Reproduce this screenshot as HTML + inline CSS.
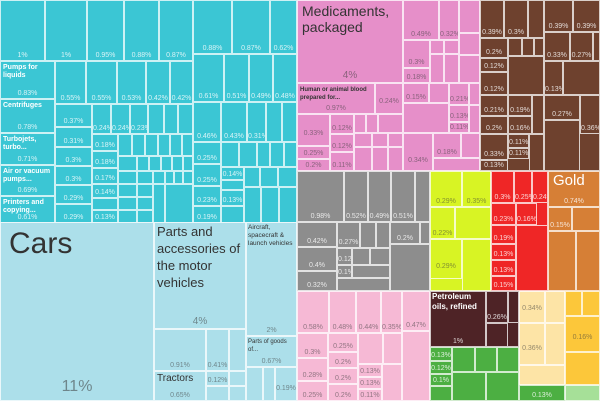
<!DOCTYPE html>
<html><head><meta charset="utf-8"><style>
body{margin:0;width:600px;height:401px;overflow:hidden;background:#fff;font-family:"Liberation Sans",sans-serif}
#m{position:relative;width:600px;height:401px}
#m div{position:absolute;box-sizing:border-box;border:1px solid rgba(255,255,255,.75);overflow:hidden}
.t{background:#3bc6d4}.c{background:#acdfea}.p{background:#e68fc9}.b{background:#6e412e}.g{background:#8d8d8d}
.y{background:#d8f424}.r{background:#ef2626}.o{background:#d67f36}.lp{background:#f6b9d5}.d{background:#4e2326}
.gr{background:#4caf42}.ly{background:#fde4a6}.gy{background:#fcc73a}.lg{background:#a6e098}
.v{color:rgba(255,255,255,.8);font-size:7px;text-align:center;position:absolute;left:0;right:0;bottom:1px}
.vd{color:rgba(60,60,60,.55)}
.n{color:#fff;font-size:7px;line-height:8px;padding:2px;font-weight:bold}
.k{color:#333}
</style></head><body><div id="m">
<!-- teal machinery -->
<div class="t" style="left:0;top:0;width:297px;height:223px"></div>
<div class="t" style="left:0;top:0;width:45px;height:61px"><span class="v">1%</span></div>
<div class="t" style="left:45px;top:0;width:42px;height:61px"><span class="v">1%</span></div>
<div class="t" style="left:87px;top:0;width:37px;height:61px"><span class="v">0.95%</span></div>
<div class="t" style="left:124px;top:0;width:35px;height:61px"><span class="v">0.88%</span></div>
<div class="t" style="left:159px;top:0;width:34px;height:61px"><span class="v">0.87%</span></div>
<div class="t" style="left:193px;top:0;width:39px;height:54px"><span class="v">0.88%</span></div>
<div class="t" style="left:232px;top:0;width:38px;height:54px"><span class="v">0.87%</span></div>
<div class="t" style="left:270px;top:0;width:27px;height:54px"><span class="v">0.62%</span></div>
<div class="t" style="left:0;top:61px;width:55px;height:38px"><div class="n" style="border:0;position:static">Pumps for liquids</div><span class="v">0.83%</span></div>
<div class="t" style="left:0;top:99px;width:55px;height:34px"><div class="n" style="border:0;position:static">Centrifuges</div><span class="v">0.78%</span></div>
<div class="t" style="left:0;top:133px;width:55px;height:32px"><div class="n" style="border:0;position:static">Turbojets, turbo...</div><span class="v">0.71%</span></div>
<div class="t" style="left:0;top:165px;width:55px;height:31px"><div class="n" style="border:0;position:static">Air or vacuum pumps...</div><span class="v">0.69%</span></div>
<div class="t" style="left:0;top:196px;width:55px;height:27px"><div class="n" style="border:0;position:static">Printers and copying...</div><span class="v">0.61%</span></div>
<div class="t" style="left:55px;top:61px;width:31px;height:43px"><span class="v">0.55%</span></div>
<div class="t" style="left:86px;top:61px;width:31px;height:43px"><span class="v">0.55%</span></div>
<div class="t" style="left:117px;top:61px;width:29px;height:43px"><span class="v">0.53%</span></div>
<div class="t" style="left:146px;top:61px;width:24px;height:43px"><span class="v">0.42%</span></div>
<div class="t" style="left:170px;top:61px;width:23px;height:43px"><span class="v">0.42%</span></div>
<div class="t" style="left:193px;top:54px;width:31px;height:48px"><span class="v">0.61%</span></div>
<div class="t" style="left:224px;top:54px;width:25px;height:48px"><span class="v">0.51%</span></div>
<div class="t" style="left:249px;top:54px;width:24px;height:48px"><span class="v">0.49%</span></div>
<div class="t" style="left:273px;top:54px;width:24px;height:48px"><span class="v">0.48%</span></div>
<div class="t" style="left:55px;top:104px;width:37px;height:23px"><span class="v">0.37%</span></div>
<div class="t" style="left:55px;top:127px;width:37px;height:20px"><span class="v">0.31%</span></div>
<div class="t" style="left:55px;top:147px;width:37px;height:19px"><span class="v">0.3%</span></div>
<div class="t" style="left:55px;top:166px;width:37px;height:19px"><span class="v">0.3%</span></div>
<div class="t" style="left:55px;top:185px;width:37px;height:19px"><span class="v">0.29%</span></div>
<div class="t" style="left:55px;top:204px;width:37px;height:19px"><span class="v">0.29%</span></div>
<div class="t" style="left:92px;top:104px;width:19px;height:30px"><span class="v">0.24%</span></div>
<div class="t" style="left:111px;top:104px;width:19px;height:30px"><span class="v">0.24%</span></div>
<div class="t" style="left:130px;top:104px;width:18px;height:30px"><span class="v">0.23%</span></div>
<div class="t" style="left:148px;top:104px;width:16px;height:30px"></div>
<div class="t" style="left:164px;top:104px;width:14px;height:30px"></div>
<div class="t" style="left:178px;top:104px;width:15px;height:30px"></div>
<div class="t" style="left:92px;top:134px;width:26px;height:17px"><span class="v">0.18%</span></div>
<div class="t" style="left:92px;top:151px;width:26px;height:17px"><span class="v">0.18%</span></div>
<div class="t" style="left:92px;top:168px;width:26px;height:16px"><span class="v">0.17%</span></div>
<div class="t" style="left:92px;top:184px;width:26px;height:14px"><span class="v">0.14%</span></div>
<div class="t" style="left:92px;top:198px;width:26px;height:12px"></div>
<div class="t" style="left:92px;top:210px;width:26px;height:13px"><span class="v">0.13%</span></div>
<div class="t" style="left:118px;top:134px;width:14px;height:22px"></div>
<div class="t" style="left:132px;top:134px;width:13px;height:22px"></div>
<div class="t" style="left:145px;top:134px;width:13px;height:22px"></div>
<div class="t" style="left:158px;top:134px;width:12px;height:22px"></div>
<div class="t" style="left:170px;top:134px;width:12px;height:22px"></div>
<div class="t" style="left:182px;top:134px;width:11px;height:22px"></div>
<div class="t" style="left:118px;top:156px;width:19px;height:15px"></div>
<div class="t" style="left:137px;top:156px;width:12px;height:15px"></div>
<div class="t" style="left:149px;top:156px;width:12px;height:15px"></div>
<div class="t" style="left:161px;top:156px;width:11px;height:15px"></div>
<div class="t" style="left:172px;top:156px;width:11px;height:15px"></div>
<div class="t" style="left:183px;top:156px;width:10px;height:15px"></div>
<div class="t" style="left:118px;top:171px;width:19px;height:13px"></div>
<div class="t" style="left:118px;top:184px;width:19px;height:13px"></div>
<div class="t" style="left:118px;top:197px;width:19px;height:13px"></div>
<div class="t" style="left:118px;top:210px;width:19px;height:13px"></div>
<div class="t" style="left:137px;top:171px;width:16px;height:13px"></div>
<div class="t" style="left:137px;top:184px;width:16px;height:13px"></div>
<div class="t" style="left:137px;top:197px;width:16px;height:13px"></div>
<div class="t" style="left:137px;top:210px;width:16px;height:13px"></div>
<div class="t" style="left:153px;top:171px;width:12px;height:13px"></div>
<div class="t" style="left:165px;top:171px;width:9px;height:13px"></div>
<div class="t" style="left:174px;top:171px;width:9px;height:13px"></div>
<div class="t" style="left:183px;top:171px;width:10px;height:13px"></div>
<div class="t" style="left:153px;top:184px;width:12px;height:39px"></div>
<div class="t" style="left:165px;top:184px;width:28px;height:39px"></div>
<div class="t" style="left:193px;top:102px;width:28px;height:40px"><span class="v">0.46%</span></div>
<div class="t" style="left:221px;top:102px;width:26px;height:40px"><span class="v">0.43%</span></div>
<div class="t" style="left:247px;top:102px;width:19px;height:40px"><span class="v">0.31%</span></div>
<div class="t" style="left:266px;top:102px;width:16px;height:40px"></div>
<div class="t" style="left:282px;top:102px;width:15px;height:40px"></div>
<div class="t" style="left:193px;top:142px;width:28px;height:22px"><span class="v">0.25%</span></div>
<div class="t" style="left:193px;top:164px;width:28px;height:22px"><span class="v">0.25%</span></div>
<div class="t" style="left:193px;top:186px;width:28px;height:20px"><span class="v">0.23%</span></div>
<div class="t" style="left:193px;top:206px;width:28px;height:17px"><span class="v">0.19%</span></div>
<div class="t" style="left:221px;top:142px;width:18px;height:25px"></div>
<div class="t" style="left:239px;top:142px;width:18px;height:25px"></div>
<div class="t" style="left:257px;top:142px;width:13px;height:25px"></div>
<div class="t" style="left:270px;top:142px;width:14px;height:25px"></div>
<div class="t" style="left:284px;top:142px;width:13px;height:25px"></div>
<div class="t" style="left:221px;top:167px;width:23px;height:13px"><span class="v">0.14%</span></div>
<div class="t" style="left:221px;top:180px;width:23px;height:10px"></div>
<div class="t" style="left:221px;top:190px;width:23px;height:16px"><span class="v">0.13%</span></div>
<div class="t" style="left:221px;top:206px;width:23px;height:17px"></div>
<div class="t" style="left:244px;top:167px;width:16px;height:20px"></div>
<div class="t" style="left:260px;top:167px;width:18px;height:20px"></div>
<div class="t" style="left:278px;top:167px;width:19px;height:20px"></div>
<div class="t" style="left:244px;top:187px;width:17px;height:36px"></div>
<div class="t" style="left:261px;top:187px;width:18px;height:36px"></div>
<div class="t" style="left:279px;top:187px;width:18px;height:36px"></div>
<!-- cars / transport -->
<div class="c" style="left:0;top:222px;width:154px;height:179px"><div style="border:0;left:8px;top:4px;font-size:30px;color:#333">Cars</div><span class="v vd" style="font-size:16px;bottom:4px">11%</span></div>
<div class="c" style="left:154px;top:222px;width:92px;height:107px"><div style="border:0;left:2px;top:0;font-size:13px;line-height:17px;color:#333">Parts and accessories of the motor vehicles</div><span class="v vd" style="font-size:10px;bottom:1px">4%</span></div>
<div class="c" style="left:246px;top:222px;width:51px;height:114px"><div style="border:0;left:1px;top:1px;font-size:6.5px;line-height:8px;color:#333">Aircraft, spacecraft &amp; launch vehicles</div><span class="v vd">2%</span></div>
<div class="c" style="left:154px;top:329px;width:52px;height:42px"><span class="v vd">0.91%</span></div>
<div class="c" style="left:206px;top:329px;width:23px;height:42px"><span class="v vd">0.41%</span></div>
<div class="c" style="left:229px;top:329px;width:17px;height:42px"></div>
<div class="c" style="left:154px;top:371px;width:52px;height:30px"><div style="border:0;left:2px;top:1px;font-size:10px;color:#333">Tractors</div><span class="v vd">0.65%</span></div>
<div class="c" style="left:206px;top:371px;width:23px;height:15px"><span class="v vd">0.12%</span></div>
<div class="c" style="left:229px;top:371px;width:17px;height:15px"></div>
<div class="c" style="left:206px;top:386px;width:23px;height:15px"></div>
<div class="c" style="left:229px;top:386px;width:17px;height:15px"></div>
<div class="c" style="left:246px;top:336px;width:51px;height:31px"><div style="border:0;left:1px;top:1px;font-size:6px;line-height:8px;color:#333">Parts of goods of...</div><span class="v vd">0.67%</span></div>
<div class="c" style="left:246px;top:367px;width:17px;height:34px"></div>
<div class="c" style="left:263px;top:367px;width:12px;height:34px"></div>
<div class="c" style="left:275px;top:367px;width:22px;height:34px"><span class="v vd" style="bottom:8px">0.19%</span></div>
<!-- pink medicaments -->
<div class="p" style="left:297px;top:0;width:183px;height:171px"></div>
<div class="p" style="left:297px;top:0;width:106px;height:83px"><div style="border:0;left:4px;top:2px;font-size:14px;line-height:16px;color:#333">Medicaments, packaged</div><span class="v vd" style="font-size:10px">4%</span></div>
<div class="p" style="left:297px;top:83px;width:78px;height:31px"><div style="border:0;left:2px;top:2px;font-size:6px;line-height:8px;color:#333;font-weight:bold">Human or animal blood prepared for...</div><span class="v vd">0.97%</span></div>
<div class="p" style="left:375px;top:83px;width:28px;height:31px"><span class="v vd" style="bottom:8px">0.24%</span></div>
<div class="p" style="left:297px;top:114px;width:33px;height:32px"><span class="v vd" style="bottom:8px">0.33%</span></div>
<div class="p" style="left:297px;top:146px;width:33px;height:13px"><span class="v vd">0.25%</span></div>
<div class="p" style="left:297px;top:159px;width:33px;height:12px"><span class="v vd">0.2%</span></div>
<div class="p" style="left:330px;top:114px;width:24px;height:20px"><span class="v vd">0.12%</span></div>
<div class="p" style="left:330px;top:134px;width:24px;height:18px"><span class="v vd">0.12%</span></div>
<div class="p" style="left:330px;top:152px;width:24px;height:19px"><span class="v vd">0.11%</span></div>
<div class="p" style="left:354px;top:114px;width:12px;height:19px"></div>
<div class="p" style="left:366px;top:114px;width:12px;height:19px"></div>
<div class="p" style="left:378px;top:114px;width:25px;height:19px"></div>
<div class="p" style="left:354px;top:133px;width:18px;height:14px"></div>
<div class="p" style="left:372px;top:133px;width:16px;height:14px"></div>
<div class="p" style="left:388px;top:133px;width:15px;height:14px"></div>
<div class="p" style="left:354px;top:147px;width:18px;height:24px"></div>
<div class="p" style="left:372px;top:147px;width:16px;height:24px"></div>
<div class="p" style="left:388px;top:147px;width:15px;height:24px"></div>
<div class="p" style="left:403px;top:0;width:36px;height:40px"><span class="v vd">0.49%</span></div>
<div class="p" style="left:439px;top:0;width:20px;height:40px"><span class="v vd">0.32%</span></div>
<div class="p" style="left:459px;top:0;width:21px;height:33px"></div>
<div class="p" style="left:459px;top:33px;width:21px;height:22px"></div>
<div class="p" style="left:403px;top:40px;width:27px;height:28px"><span class="v vd">0.3%</span></div>
<div class="p" style="left:403px;top:68px;width:27px;height:15px"><span class="v vd">0.18%</span></div>
<div class="p" style="left:430px;top:40px;width:14px;height:14px"></div>
<div class="p" style="left:444px;top:40px;width:15px;height:14px"></div>
<div class="p" style="left:430px;top:54px;width:14px;height:29px"></div>
<div class="p" style="left:444px;top:54px;width:15px;height:29px"></div>
<div class="p" style="left:459px;top:55px;width:21px;height:28px"></div>
<div class="p" style="left:403px;top:83px;width:26px;height:20px"><span class="v vd">0.15%</span></div>
<div class="p" style="left:429px;top:83px;width:20px;height:20px"></div>
<div class="p" style="left:449px;top:83px;width:20px;height:22px"><span class="v vd">0.21%</span></div>
<div class="p" style="left:469px;top:83px;width:11px;height:22px"></div>
<div class="p" style="left:449px;top:105px;width:20px;height:17px"><span class="v vd">0.13%</span></div>
<div class="p" style="left:449px;top:122px;width:20px;height:11px"><span class="v vd">0.11%</span></div>
<div class="p" style="left:469px;top:105px;width:11px;height:28px"></div>
<div class="p" style="left:403px;top:103px;width:46px;height:30px"></div>
<div class="p" style="left:403px;top:133px;width:30px;height:38px"><span class="v vd" style="bottom:6px">0.34%</span></div>
<div class="p" style="left:433px;top:133px;width:28px;height:25px"><span class="v vd">0.18%</span></div>
<div class="p" style="left:461px;top:133px;width:19px;height:25px"></div>
<div class="p" style="left:433px;top:158px;width:47px;height:13px"></div>
<!-- brown -->
<div class="b" style="left:480px;top:0;width:120px;height:171px"></div>
<div class="b" style="left:480px;top:0;width:24px;height:38px"><span class="v">0.39%</span></div>
<div class="b" style="left:504px;top:0;width:24px;height:38px"><span class="v">0.3%</span></div>
<div class="b" style="left:528px;top:0;width:16px;height:38px"></div>
<div class="b" style="left:544px;top:0;width:29px;height:32px"><span class="v">0.39%</span></div>
<div class="b" style="left:573px;top:0;width:27px;height:32px"><span class="v">0.39%</span></div>
<div class="b" style="left:480px;top:38px;width:28px;height:20px"><span class="v">0.2%</span></div>
<div class="b" style="left:480px;top:58px;width:28px;height:14px"><span class="v">0.12%</span></div>
<div class="b" style="left:480px;top:72px;width:28px;height:23px"><span class="v">0.12%</span></div>
<div class="b" style="left:508px;top:38px;width:14px;height:18px"></div>
<div class="b" style="left:522px;top:38px;width:12px;height:18px"></div>
<div class="b" style="left:534px;top:38px;width:10px;height:18px"></div>
<div class="b" style="left:508px;top:56px;width:36px;height:39px"></div>
<div class="b" style="left:544px;top:32px;width:26px;height:29px"><span class="v">0.33%</span></div>
<div class="b" style="left:570px;top:32px;width:23px;height:29px"><span class="v">0.27%</span></div>
<div class="b" style="left:593px;top:32px;width:7px;height:29px"></div>
<div class="b" style="left:544px;top:61px;width:19px;height:34px"><span class="v">0.13%</span></div>
<div class="b" style="left:563px;top:61px;width:37px;height:34px"></div>
<div class="b" style="left:480px;top:95px;width:28px;height:21px"><span class="v">0.21%</span></div>
<div class="b" style="left:480px;top:116px;width:28px;height:18px"><span class="v">0.2%</span></div>
<div class="b" style="left:480px;top:134px;width:28px;height:26px"><span class="v">0.33%</span></div>
<div class="b" style="left:480px;top:160px;width:28px;height:11px"><span class="v">0.13%</span></div>
<div class="b" style="left:508px;top:95px;width:24px;height:21px"><span class="v">0.19%</span></div>
<div class="b" style="left:508px;top:116px;width:24px;height:18px"><span class="v">0.16%</span></div>
<div class="b" style="left:508px;top:134px;width:21px;height:14px"><span class="v">0.11%</span></div>
<div class="b" style="left:508px;top:148px;width:21px;height:11px"><span class="v">0.11%</span></div>
<div class="b" style="left:529px;top:134px;width:15px;height:37px"></div>
<div class="b" style="left:532px;top:95px;width:12px;height:39px"></div>
<div class="b" style="left:544px;top:95px;width:36px;height:25px"><span class="v">0.27%</span></div>
<div class="b" style="left:580px;top:95px;width:20px;height:39px"><span class="v">0.36%</span></div>
<div class="b" style="left:544px;top:120px;width:36px;height:51px"></div>
<!-- gray -->
<div class="g" style="left:297px;top:171px;width:133px;height:120px"></div>
<div class="g" style="left:297px;top:171px;width:47px;height:51px"><span class="v">0.98%</span></div>
<div class="g" style="left:344px;top:171px;width:24px;height:51px"><span class="v">0.52%</span></div>
<div class="g" style="left:368px;top:171px;width:23px;height:51px"><span class="v">0.49%</span></div>
<div class="g" style="left:391px;top:171px;width:24px;height:51px"><span class="v">0.51%</span></div>
<div class="g" style="left:415px;top:171px;width:15px;height:51px"></div>
<div class="g" style="left:297px;top:222px;width:40px;height:25px"><span class="v">0.42%</span></div>
<div class="g" style="left:297px;top:247px;width:40px;height:24px"><span class="v">0.4%</span></div>
<div class="g" style="left:297px;top:271px;width:40px;height:20px"><span class="v">0.32%</span></div>
<div class="g" style="left:337px;top:222px;width:23px;height:26px"><span class="v">0.27%</span></div>
<div class="g" style="left:360px;top:222px;width:16px;height:26px"></div>
<div class="g" style="left:376px;top:222px;width:14px;height:26px"></div>
<div class="g" style="left:337px;top:248px;width:15px;height:17px"><span class="v">0.12%</span></div>
<div class="g" style="left:337px;top:265px;width:15px;height:13px"><span class="v">0.1%</span></div>
<div class="g" style="left:352px;top:248px;width:18px;height:17px"></div>
<div class="g" style="left:370px;top:248px;width:20px;height:17px"></div>
<div class="g" style="left:337px;top:278px;width:53px;height:13px"></div>
<div class="g" style="left:352px;top:265px;width:38px;height:13px"></div>
<div class="g" style="left:390px;top:222px;width:30px;height:22px"><span class="v">0.2%</span></div>
<div class="g" style="left:420px;top:222px;width:10px;height:22px"></div>
<div class="g" style="left:390px;top:244px;width:40px;height:47px"></div>
<!-- yellow green -->
<div class="y" style="left:430px;top:171px;width:61px;height:120px"></div>
<div class="y" style="left:430px;top:171px;width:32px;height:36px"><span class="v vd">0.29%</span></div>
<div class="y" style="left:462px;top:171px;width:29px;height:36px"><span class="v vd">0.35%</span></div>
<div class="y" style="left:430px;top:207px;width:25px;height:32px"><span class="v vd">0.22%</span></div>
<div class="y" style="left:455px;top:207px;width:36px;height:32px"></div>
<div class="y" style="left:430px;top:239px;width:32px;height:40px"><span class="v vd" style="bottom:8px">0.29%</span></div>
<div class="y" style="left:462px;top:239px;width:29px;height:52px"></div>
<!-- red -->
<div class="r" style="left:491px;top:171px;width:57px;height:120px"></div>
<div class="r" style="left:491px;top:171px;width:23px;height:32px"><span class="v">0.3%</span></div>
<div class="r" style="left:514px;top:171px;width:18px;height:32px"><span class="v">0.25%</span></div>
<div class="r" style="left:532px;top:171px;width:16px;height:32px"><span class="v">0.24%</span></div>
<div class="r" style="left:491px;top:203px;width:25px;height:22px"><span class="v">0.23%</span></div>
<div class="r" style="left:516px;top:203px;width:21px;height:22px"><span class="v">0.16%</span></div>
<div class="r" style="left:491px;top:225px;width:25px;height:19px"><span class="v">0.19%</span></div>
<div class="r" style="left:491px;top:244px;width:25px;height:16px"><span class="v">0.13%</span></div>
<div class="r" style="left:491px;top:260px;width:25px;height:16px"><span class="v">0.13%</span></div>
<div class="r" style="left:491px;top:276px;width:25px;height:15px"><span class="v">0.15%</span></div>
<div class="r" style="left:516px;top:225px;width:32px;height:66px"></div>
<!-- gold -->
<div class="o" style="left:548px;top:171px;width:52px;height:120px"></div>
<div class="o" style="left:548px;top:171px;width:52px;height:36px"><div style="border:0;left:4px;top:0;font-size:15px;color:#fff">Gold</div><span class="v">0.74%</span></div>
<div class="o" style="left:548px;top:207px;width:24px;height:24px"><span class="v">0.15%</span></div>
<div class="o" style="left:572px;top:207px;width:28px;height:24px"></div>
<div class="o" style="left:548px;top:231px;width:28px;height:60px"></div>
<div class="o" style="left:576px;top:231px;width:24px;height:60px"></div>
<!-- light pink -->
<div class="lp" style="left:297px;top:291px;width:133px;height:110px"></div>
<div class="lp" style="left:297px;top:291px;width:32px;height:42px"><span class="v vd">0.58%</span></div>
<div class="lp" style="left:329px;top:291px;width:27px;height:42px"><span class="v vd">0.48%</span></div>
<div class="lp" style="left:356px;top:291px;width:25px;height:42px"><span class="v vd">0.44%</span></div>
<div class="lp" style="left:381px;top:291px;width:21px;height:42px"><span class="v vd">0.35%</span></div>
<div class="lp" style="left:402px;top:291px;width:28px;height:40px"><span class="v vd">0.47%</span></div>
<div class="lp" style="left:297px;top:333px;width:31px;height:25px"><span class="v vd">0.3%</span></div>
<div class="lp" style="left:297px;top:358px;width:31px;height:23px"><span class="v vd">0.28%</span></div>
<div class="lp" style="left:297px;top:381px;width:31px;height:20px"><span class="v vd">0.25%</span></div>
<div class="lp" style="left:328px;top:333px;width:30px;height:19px"><span class="v vd">0.25%</span></div>
<div class="lp" style="left:328px;top:352px;width:30px;height:16px"><span class="v vd">0.2%</span></div>
<div class="lp" style="left:328px;top:368px;width:30px;height:16px"><span class="v vd">0.2%</span></div>
<div class="lp" style="left:328px;top:384px;width:30px;height:17px"><span class="v vd">0.2%</span></div>
<div class="lp" style="left:358px;top:333px;width:25px;height:31px"></div>
<div class="lp" style="left:383px;top:333px;width:19px;height:31px"></div>
<div class="lp" style="left:358px;top:364px;width:24px;height:13px"><span class="v vd">0.13%</span></div>
<div class="lp" style="left:358px;top:377px;width:24px;height:12px"><span class="v vd">0.13%</span></div>
<div class="lp" style="left:358px;top:389px;width:24px;height:12px"><span class="v vd">0.11%</span></div>
<div class="lp" style="left:382px;top:364px;width:20px;height:37px"></div>
<div class="lp" style="left:402px;top:331px;width:28px;height:70px"></div>
<!-- dark petroleum -->
<div class="d" style="left:430px;top:291px;width:89px;height:56px"></div>
<div class="d" style="left:430px;top:291px;width:56px;height:56px"><div style="border:0;left:1px;top:0;font-size:8px;line-height:10px;color:#fff;font-weight:bold">Petroleum oils, refined</div><span class="v">1%</span></div>
<div class="d" style="left:486px;top:291px;width:22px;height:32px"><span class="v">0.26%</span></div>
<div class="d" style="left:508px;top:291px;width:11px;height:32px"></div>
<div class="d" style="left:486px;top:323px;width:22px;height:24px"></div>
<!-- green -->
<div class="gr" style="left:430px;top:347px;width:89px;height:54px"></div>
<div class="gr" style="left:430px;top:347px;width:22px;height:14px"><span class="v">0.13%</span></div>
<div class="gr" style="left:430px;top:361px;width:22px;height:13px"><span class="v">0.12%</span></div>
<div class="gr" style="left:430px;top:374px;width:22px;height:12px"><span class="v">0.1%</span></div>
<div class="gr" style="left:430px;top:386px;width:22px;height:15px"></div>
<div class="gr" style="left:452px;top:347px;width:23px;height:25px"></div>
<div class="gr" style="left:475px;top:347px;width:22px;height:25px"></div>
<div class="gr" style="left:497px;top:347px;width:22px;height:25px"></div>
<div class="gr" style="left:452px;top:372px;width:34px;height:29px"></div>
<div class="gr" style="left:486px;top:372px;width:33px;height:29px"></div>
<!-- light yellow -->
<div class="ly" style="left:519px;top:291px;width:46px;height:94px"></div>
<div class="ly" style="left:519px;top:291px;width:26px;height:32px"><span class="v vd" style="bottom:10px">0.34%</span></div>
<div class="ly" style="left:519px;top:323px;width:26px;height:42px"><span class="v vd" style="bottom:12px">0.36%</span></div>
<div class="ly" style="left:545px;top:291px;width:20px;height:32px"></div>
<div class="ly" style="left:545px;top:323px;width:20px;height:42px"></div>
<div class="ly" style="left:519px;top:365px;width:46px;height:20px"></div>
<div class="gy" style="left:565px;top:291px;width:35px;height:94px"></div>
<div class="gy" style="left:565px;top:291px;width:17px;height:25px"></div>
<div class="gy" style="left:582px;top:291px;width:18px;height:25px"></div>
<div class="gy" style="left:565px;top:316px;width:35px;height:36px"><span class="v vd" style="bottom:10px">0.16%</span></div>
<div class="gy" style="left:565px;top:352px;width:35px;height:33px"></div>
<div class="gr" style="left:519px;top:385px;width:46px;height:16px"><span class="v">0.13%</span></div>
<div class="lg" style="left:565px;top:385px;width:35px;height:16px"></div>
</div></body></html>
